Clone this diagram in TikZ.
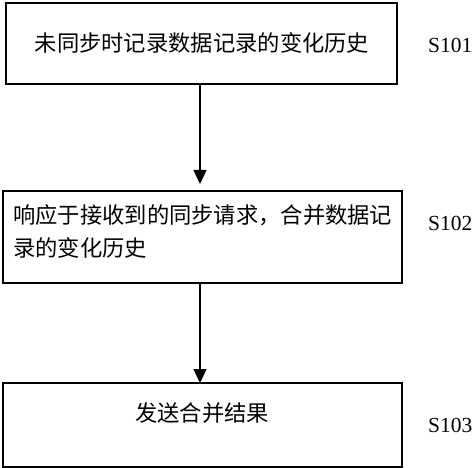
\documentclass[tikz,border=0pt]{standalone}
\usepackage{fontspec}
\setmainfont{Liberation Serif}
\newfontfamily\cjk{Noto Sans CJK SC}
\usetikzlibrary{arrows.meta}
\begin{document}
\begin{tikzpicture}[x=1pt,y=-1pt,
  stepbox/.style={draw,line width=1.8pt,inner sep=0pt},
  boxtext/.style={font=\cjk\fontsize{22.3}{33}\selectfont,inner sep=0pt},
  steplabel/.style={font=\fontsize{21.5}{24}\selectfont,inner sep=0pt,anchor=west},
  flow/.style={line width=1.3pt,-{Triangle[width=13pt,length=14pt]}}]
\useasboundingbox (0,0) rectangle (474,468);
\node[stepbox,minimum width=391pt,minimum height=81pt] (b1) at (201.5,43.5) {};
\node[stepbox,minimum width=399pt,minimum height=92pt] (b2) at (202.5,237) {};
\node[stepbox,minimum width=399pt,minimum height=84pt] (b3) at (202.5,425) {};
\node[boxtext] (t1) at (202,43) {未同步时记录数据记录的变化历史};
\node[boxtext,anchor=west] (t2a) at (13,215) {响应于接收到的同步请求，合并数据记};
\node[boxtext,anchor=west] (t2b) at (13,248) {录的变化历史};
\node[boxtext] (t3) at (202,413) {发送合并结果};
\node[steplabel] (s1) at (428,45.5) {S101};
\node[steplabel] (s2) at (428,223.5) {S102};
\node[steplabel] (s3) at (428,425.5) {S103};
\coordinate (a1s) at (200,84);
\coordinate (a1e) at (200,184);
\draw[flow] (a1s) -- (a1e);
\coordinate (a2s) at (200,283);
\coordinate (a2e) at (200,383);
\draw[flow] (a2s) -- (a2e);
\end{tikzpicture}
\end{document}
